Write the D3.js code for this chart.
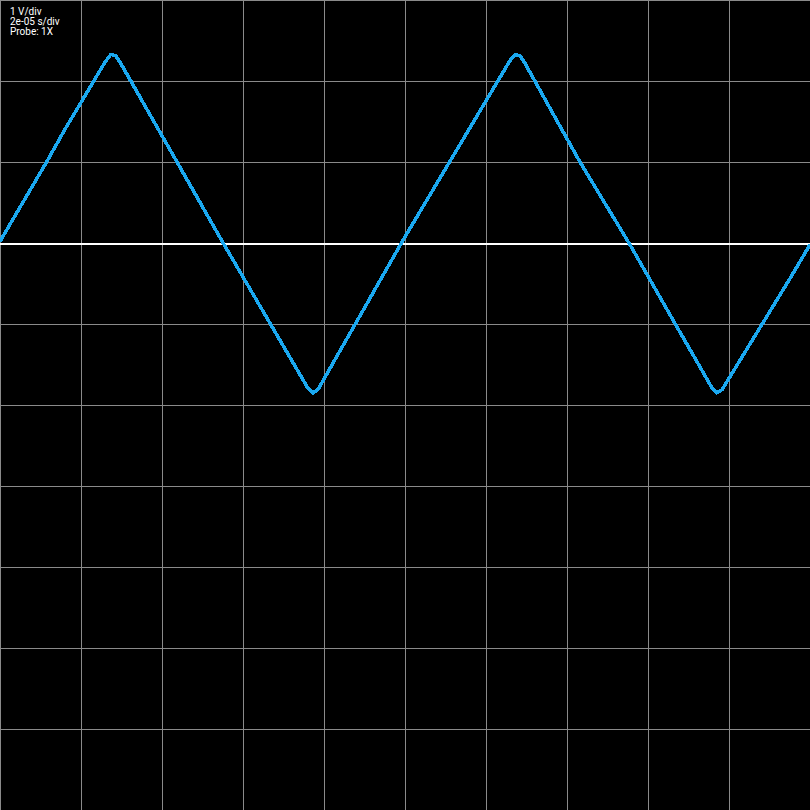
<!DOCTYPE html>
<html>
  <head>
    <script src="https://d3js.org/d3.v7.min.js"></script>
    <style>
      body { margin: 0; background: #000; }
    </style>
  </head>
  <body>
    <script>

    // scope settings
    var voltsPerDiv = 1;
    var secPerDiv = 2e-5;
    var labels = ["1 V/div", "2e-05 s/div", "Probe: 1X"];

    // trace: time in microseconds, voltage in volts
    var traceTime = [0, 11.5, 16.0, 25.9, 27.4, 28.6, 29.9, 55.1, 76.0, 77.3, 78.5,
      99.8, 125.9, 127.2, 128.4, 129.6, 143.2, 155.3, 175.8, 177.0, 178.3, 194.8, 200];
    var traceVolts = [0.02, 1.0, 1.40, 2.23, 2.33, 2.31, 2.21, 0.0, -1.79, -1.85, -1.81,
      0.06, 2.25, 2.33, 2.31, 2.22, 1.0, 0.0, -1.79, -1.85, -1.81, -0.46, -0.02];

    // grid divisions
    var timeTicks = [0, 20, 40, 60, 80, 100, 120, 140, 160, 180, 200];
    var voltTicks = [-7, -6, -5, -4, -3, -2, -1, 0, 1, 2, 3];

    var w = 810;
    var h = 810;

    var svg = d3.select("body")
      .append("svg")
      .attr("width", w)
      .attr("height", h)
      .style("display", "block");

    svg.append("rect")
      .attr("width", w)
      .attr("height", h)
      .attr("fill", "#000");

    var x = d3.scaleLinear().domain([0, 200]).range([0, w]);
    var y = d3.scaleLinear().domain([-7, 3]).range([h, 0]);

    // vertical grid
    svg.append("g")
      .selectAll("line")
      .data(timeTicks)
      .enter()
      .append("line")
      .attr("x1", function(d) { return Math.round(x(d)) + 0.5; })
      .attr("x2", function(d) { return Math.round(x(d)) + 0.5; })
      .attr("y1", 0)
      .attr("y2", h)
      .attr("stroke", "#8a8a8a")
      .attr("stroke-width", 1);

    // horizontal grid (zero line drawn brighter)
    svg.append("g")
      .selectAll("line")
      .data(voltTicks)
      .enter()
      .append("line")
      .attr("x1", 0)
      .attr("x2", w)
      .attr("y1", function(d) { return d === 0 ? y(d) + 1 : Math.round(y(d)) + 0.5; })
      .attr("y2", function(d) { return d === 0 ? y(d) + 1 : Math.round(y(d)) + 0.5; })
      .attr("stroke", function(d) { return d === 0 ? "#ffffff" : "#8a8a8a"; })
      .attr("stroke-width", function(d) { return d === 0 ? 2 : 1; });

    // trace
    var line = d3.line()
      .x(function(d, i) { return x(traceTime[i]); })
      .y(function(d, i) { return y(traceVolts[i]); });

    svg.append("path")
      .datum(traceTime)
      .attr("d", line)
      .attr("fill", "none")
      .attr("stroke", "#1aa8f0")
      .attr("stroke-width", 3.5)
      .attr("stroke-linejoin", "round")
      .attr("shape-rendering", "crispEdges");

    // settings text top-left
    svg.selectAll("text.info")
      .data(labels)
      .enter()
      .append("text")
      .attr("class", "info")
      .text(function(d) { return d; })
      .attr("x", 10)
      .attr("y", function(d, i) { return 15 + i * 10; })
      .attr("font-family", "Roboto, sans-serif")
      .attr("font-size", "10px")
      .attr("fill", "#ffffff");

    </script>
  </body>
</html>
